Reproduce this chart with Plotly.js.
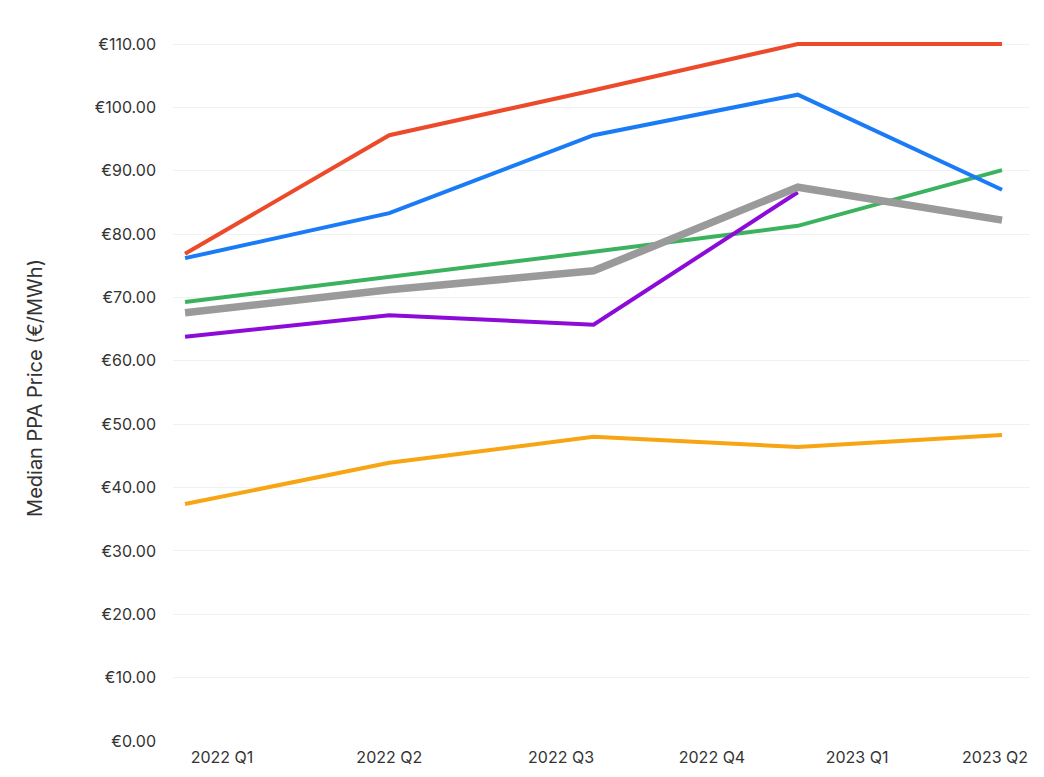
<!DOCTYPE html>
<html>
<head>
<meta charset="utf-8">
<script src="https://cdn.plot.ly/plotly-3.0.1.min.js"></script>
<style>html,body{margin:0;padding:0;background:#fff;}#chart{width:1044px;height:777px;}</style>
</head>
<body>
<div id="chart"></div>
<script>
// Quarter index of each data point
const xPoints = [0, 1, 2, 3, 4];

// Series values (€/MWh)
const redValues    = [76.9, 95.6, 102.7, 110.0, 110.0];
const blueValues   = [76.2, 83.3, 95.6, 102.0, 87.0];
const greenValues  = [69.3, 73.2, 77.2, 81.3, 90.1];
const purpleValues = [63.8, 67.2, 65.7, 86.6];
const grayValues   = [67.6, 71.2, 74.2, 87.4, 82.2];
const orangeValues = [37.4, 43.9, 48.0, 46.4, 48.3];

// Axis tick labels
const xTickLabels = ["2022 Q1", "2022 Q2", "2022 Q3", "2022 Q4", "2023 Q1", "2023 Q2"];
const xTickPositions = [0.181, 1.0, 1.841, 2.58, 3.29, 3.966];
const yTickValues = [0, 10, 20, 30, 40, 50, 60, 70, 80, 90, 100, 110];
const yTickLabels = yTickValues.map(v => "€" + v.toFixed(2));

function line(name, y, color, width) {
  return {
    type: "scatter", mode: "lines", name: name,
    x: xPoints.slice(0, y.length), y: y,
    line: {color: color, width: width, shape: "linear"},
    hoverinfo: "x+y+name"
  };
}

const traces = [
  line("Orange series", orangeValues, "#F7A514", 4),
  line("Green series", greenValues, "#3BB25E", 4),
  line("Purple series", purpleValues, "#8C0BD9", 4),
  line("Blue series", blueValues, "#1A7BF7", 4),
  line("Red series", redValues, "#EC4A2A", 4),
  line("Gray series", grayValues, "#9A9A9A", 7.5)
];

const font = {family: "Inter, 'Open Sans', sans-serif", color: "#333333"};

const layout = {
  width: 1044, height: 777,
  margin: {l: 173, r: 14, t: 35, b: 36, pad: 0},
  paper_bgcolor: "#ffffff", plot_bgcolor: "#ffffff",
  showlegend: false,
  font: font,
  xaxis: {
    range: [-0.059, 4.137],
    tickmode: "array", tickvals: xTickPositions, ticktext: xTickLabels,
    showgrid: false, zeroline: false, showline: false, ticks: "",
    tickfont: {family: font.family, size: 16, color: "#333333"},
    ticklabelstandoff: 5
  },
  yaxis: {
    range: [0, 111.42],
    tickmode: "array", tickvals: yTickValues, ticktext: yTickLabels,
    showgrid: true, gridcolor: "#f1f1f1", gridwidth: 1,
    zeroline: false, showline: false, ticks: "",
    tickfont: {family: font.family, size: 16, color: "#333333"},
    ticklabelstandoff: 16,
    title: {text: "Median PPA Price (€/MWh)", font: {family: font.family, size: 20, color: "#333333"}, standoff: 46}
  }
};

Plotly.newPlot("chart", traces, layout, {displayModeBar: false, staticPlot: true});
</script>
</body>
</html>
